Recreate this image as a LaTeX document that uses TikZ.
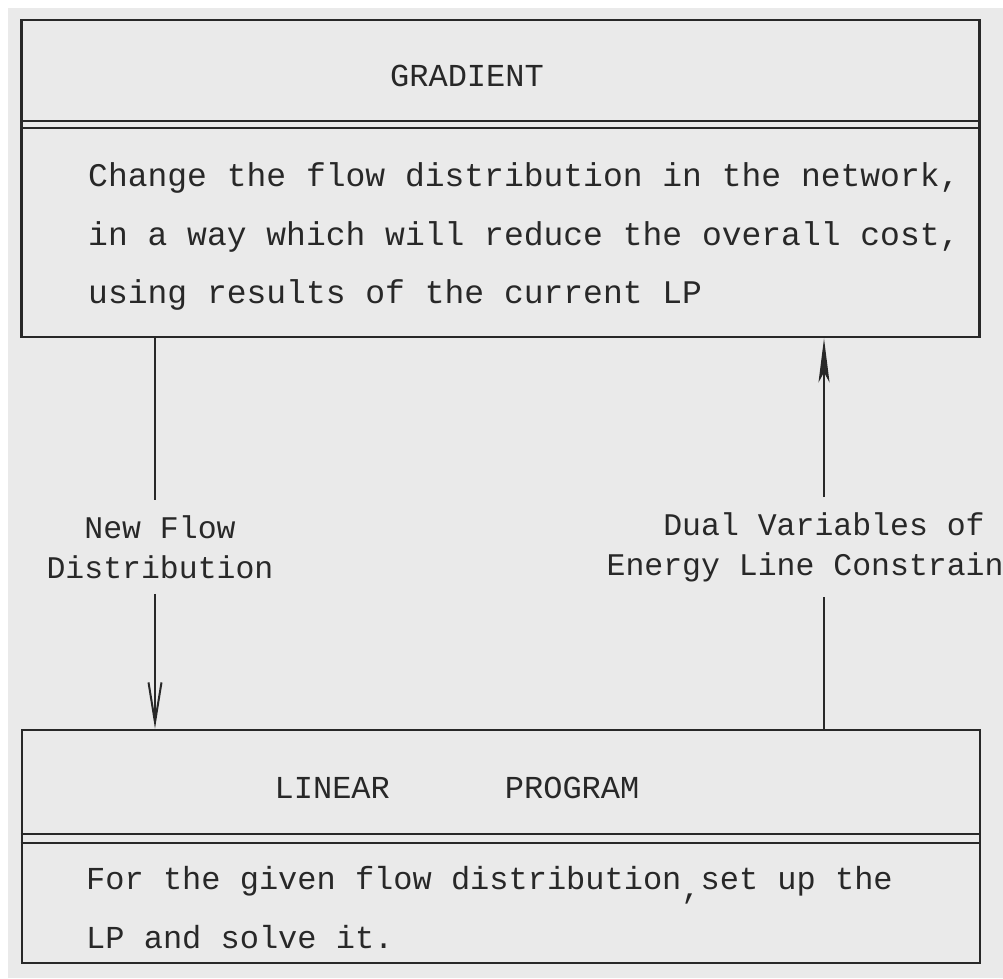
\documentclass[tikz,border=0pt]{standalone}
\usepackage{fontspec}
\newfontfamily\typewriter{Liberation Mono}
\usetikzlibrary{positioning,calc,arrows.meta}
\definecolor{paper}{RGB}{234,234,234}
\definecolor{ink}{RGB}{40,40,40}

\begin{document}
\begin{tikzpicture}[x=1pt,y=-1pt,
    frame/.style={draw=ink, line width=2.8pt, inner sep=0pt, minimum width=958pt},
    rule/.style={draw=ink, line width=2.8pt},
    title/.style={font=\typewriter\fontsize{32}{40}\selectfont, text=ink, inner sep=0pt, anchor=base},
    body/.style={font=\typewriter\fontsize{33}{40}\selectfont, text=ink, inner sep=0pt, anchor=base west},
    flowlabel/.style={font=\typewriter\fontsize{31.5}{40}\selectfont, text=ink, align=center, inner xsep=0pt, inner ysep=15pt},
    flowline/.style={draw=ink, line width=2pt}]
    \path[use as bounding box, clip] (0,0) rectangle (1003,978);
    \fill[paper] (8,8) rectangle (1003,978);

    % Gradient box
    \node[frame, minimum height=317pt] (grad) at (500.5,178.5) {};
    \draw[rule] (grad.west |- 0,121) -- (grad.east |- 0,121);
    \draw[rule] (grad.west |- 0,128) -- (grad.east |- 0,128);
    \node[title] (gradtitle) at (467,86) {GRADIENT};
    \node[body] (gradline1) at (88,186) {Change the flow distribution in the network,};
    \node[body] (gradline2) at (88,245) {in a way which will reduce the overall cost,};
    \node[body] (gradline3) at (88,303) {using results of the current LP};

    % Linear program box
    \node[frame, minimum height=233pt] (lp) at (501,846.5) {};
    \draw[rule] (lp.west |- 0,834) -- (lp.east |- 0,834);
    \draw[rule] (lp.west |- 0,843) -- (lp.east |- 0,843);
    \node[title] (lptitle) at (457,798) {LINEAR\hspace{115pt}PROGRAM};
    \node[body, font=\typewriter\fontsize{32}{40}\selectfont] (lpline1) at (86,889) {For the given flow distribution\makebox[0pt][l]{\raisebox{-0.3em}{,}}\hspace{0.6em}set up the};
    \node[body, font=\typewriter\fontsize{32}{40}\selectfont] (lpline2) at (86,948) {LP and solve it.};

    % Flow labels
    \node[flowlabel] (newflow) at (160,547) {New Flow\\Distribution};
    \node[flowlabel] (dualvar) at (824,547) {Dual Variables of\\Energy Line Constraints};

    % Connectors
    \draw[flowline] (grad.south -| 155,0) -- (newflow.north -| 155,0);
    \draw[flowline, -{Straight Barb[length=40pt,width=13pt]}] (newflow.south -| 155,0) -- (lp.north -| 155,0);
    \draw[flowline] (lp.north -| dualvar) -- (dualvar.south);
    \draw[flowline, -{Stealth[length=44pt,width=11pt,inset=10pt]}] (dualvar.north) -- (grad.south -| dualvar);
\end{tikzpicture}
\end{document}
